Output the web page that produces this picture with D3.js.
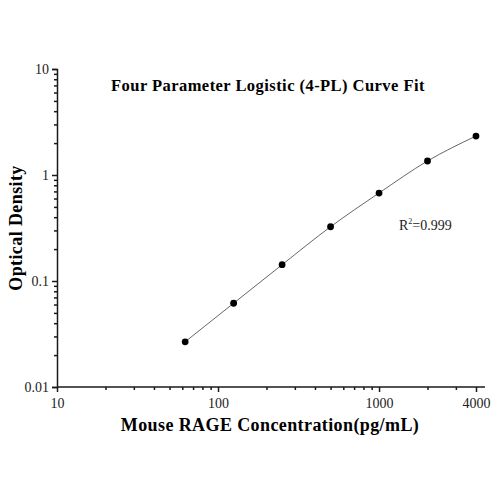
<!DOCTYPE html>
<html>
<head>
<meta charset="utf-8">
<script src="https://cdn.jsdelivr.net/npm/d3@7"></script>
<style>
  body { margin: 0; background: #fff; }
  svg { display: block; font-family: "Liberation Serif", "DejaVu Serif", serif; }
</style>
</head>
<body>
<div id="chart"></div>
<script>
// standard concentrations (pg/mL) and measured OD
const concentrations = [62.5, 125, 250, 500, 1000, 2000, 4000];
const odValues = [0.0267, 0.0617, 0.1425, 0.325, 0.676, 1.356, 2.33];
const xTickValues = [10, 100, 1000, 4000];
const xTickLabels = ["10", "100", "1000", "4000"];
const yTickValues = [0.01, 0.1, 1, 10];
const yTickLabels = ["0.01", "0.1", "1", "10"];

const width = 500, height = 500;
const margin = { top: 69, right: 15, bottom: 113, left: 57 };
const innerW = width - margin.left - margin.right;
const innerH = height - margin.top - margin.bottom;

const svg = d3.select("#chart").append("svg")
    .attr("width", width)
    .attr("height", height);

const g = svg.append("g")
    .attr("transform", `translate(${margin.left},${margin.top})`);

const x = d3.scaleLog().domain([10, 4550]).range([0, innerW]);
const y = d3.scaleLog().domain([0.01, 10]).range([innerH, 0]);

// minor ticks
const xMinor = [];
[10, 100, 1000].forEach(d => {
    for (let k = 2; k <= 9; k++) {
        const v = d * k;
        if (v <= 4550 && v !== 4000) xMinor.push(v);
    }
});
const yMinor = [];
[0.01, 0.1, 1].forEach(d => {
    for (let k = 2; k <= 9; k++) yMinor.push(d * k);
});

g.append("g")
    .attr("transform", `translate(0,${innerH})`)
    .call(d3.axisBottom(x).tickValues(xMinor).tickSize(3).tickFormat(""))
    .call(a => a.select(".domain").remove());

g.append("g")
    .attr("class", "x-axis")
    .attr("transform", `translate(0,${innerH})`)
    .call(d3.axisBottom(x).tickValues(xTickValues).tickSizeOuter(0).tickSize(5)
        .tickFormat((d, i) => xTickLabels[i]))
    .call(a => a.select(".domain").attr("d", `M0,0H${innerW}`))
    .selectAll("text")
    .attr("dy", "0.9em")
    .style("font-size", "14px")
    .style("font-family", "Liberation Serif, serif")
    .attr("fill", "#222");

g.append("g")
    .call(d3.axisLeft(y).tickValues(yMinor).tickSize(3).tickFormat(""))
    .call(a => a.select(".domain").remove());

g.append("g")
    .attr("class", "y-axis")
    .call(d3.axisLeft(y).tickValues(yTickValues).tickSizeOuter(0).tickSize(5)
        .tickFormat((d, i) => yTickLabels[i]))
    .selectAll("text")
    .attr("x", -8)
    .style("font-size", "14px")
    .style("font-family", "Liberation Serif, serif")
    .attr("fill", "#222");

g.selectAll(".domain, .tick line").attr("stroke", "#1a1a1a").attr("stroke-width", 1.5);

// fitted curve through the standards
const pts = concentrations.map((c, i) => [x(c), y(odValues[i])]);
g.append("path")
    .datum(pts)
    .attr("fill", "none")
    .attr("stroke", "#555")
    .attr("stroke-width", 0.9)
    .attr("d", d3.line().curve(d3.curveMonotoneX));

g.selectAll(".dot")
    .data(concentrations)
    .enter().append("circle")
    .attr("class", "dot")
    .attr("cx", d => x(d))
    .attr("cy", (d, i) => y(odValues[i]))
    .attr("r", 3.4)
    .attr("fill", "#000");

// R squared
const r2 = g.append("text")
    .attr("x", x(1330))
    .attr("y", y(0.3))
    .style("font-size", "14px")
    .attr("fill", "#222");
r2.append("tspan").text("R");
r2.append("tspan").attr("dy", "-6").style("font-size", "8px").text("2");
r2.append("tspan").attr("dy", "6").text("=0.999");

// title and axis labels
svg.append("text")
    .attr("x", 268)
    .attr("y", 91)
    .attr("text-anchor", "middle")
    .style("font-size", "16.5px")
    .style("font-weight", "bold")
    .style("letter-spacing", "0.45px")
    .text("Four Parameter Logistic (4-PL) Curve Fit");

svg.append("text")
    .attr("x", 270)
    .attr("y", 431)
    .attr("text-anchor", "middle")
    .style("font-size", "18px")
    .style("font-weight", "bold")
    .style("letter-spacing", "0.4px")
    .text("Mouse RAGE Concentration(pg/mL)");

svg.append("text")
    .attr("transform", "translate(22,228) rotate(-90)")
    .attr("text-anchor", "middle")
    .style("font-size", "18px")
    .style("font-weight", "bold")
    .style("letter-spacing", "0.4px")
    .text("Optical Density");
</script>
</body>
</html>
